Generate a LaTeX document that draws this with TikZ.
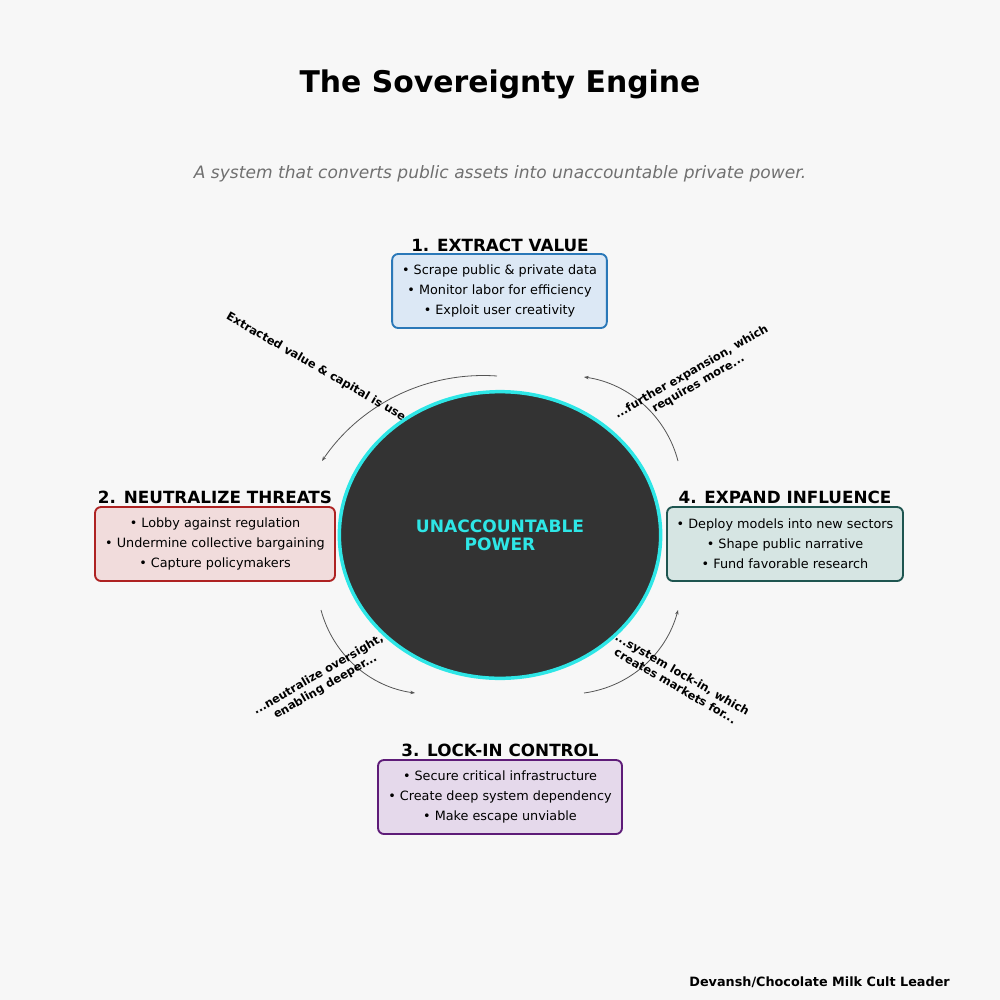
\documentclass[tikz,border=0pt]{standalone}
\usepackage{fontspec}
\setmainfont{DejaVu Sans}
\usetikzlibrary{arrows.meta,shapes.geometric}
\definecolor{bg}{HTML}{F7F7F7}
\definecolor{subgray}{HTML}{707070}
\definecolor{fillA}{HTML}{DCE8F5}\definecolor{drawA}{HTML}{2A78B8}
\definecolor{fillB}{HTML}{F1DCDC}\definecolor{drawB}{HTML}{AE2222}
\definecolor{fillC}{HTML}{E5D9EB}\definecolor{drawC}{HTML}{5E1C78}
\definecolor{fillD}{HTML}{D6E5E3}\definecolor{drawD}{HTML}{1E5550}
\definecolor{corefill}{HTML}{333333}\definecolor{corecyan}{HTML}{2EE6E6}
\definecolor{arcgray}{HTML}{555555}
\begin{document}
\begin{tikzpicture}[x=0.75pt,y=-0.75pt,
  stagebox/.style={rounded corners=4.5pt,line width=1.4pt,align=center,inner sep=0pt,
    minimum height=55.5pt,font=\fontsize{9.6}{15}\selectfont},
  stagetitle/.style={font=\bfseries\fontsize{12.6}{15}\selectfont,inner sep=0pt},
  flowlabel/.style={font=\bfseries\fontsize{8.6}{10.3}\selectfont,align=center,inner sep=0pt},
  flowarc/.style={draw=arcgray,line width=0.6pt,-{Stealth[length=3.5pt,width=2.6pt]}}]
\fill[bg] (0,0) rectangle (1000,1000);
\useasboundingbox (0,0) rectangle (1000,1000);

\node[font=\bfseries\fontsize{22.4}{26}\selectfont] (title) at (500,84) {The Sovereignty Engine};
\node[font=\itshape\fontsize{12.8}{15}\selectfont,text=subgray] (subtitle) at (500,174)
  {A system that converts public assets into unaccountable private power.};

% stage titles and boxes
\node[stagetitle] (t1) at (500,245) {1. EXTRACT VALUE};
\node[stagebox,fill=fillA,draw=drawA,minimum width=161pt] (b1) at (499.5,291)
  {• Scrape public \& private data\\• Monitor labor for efficiency\\• Exploit user creativity};
\node[stagetitle] (t2) at (215,497) {2. NEUTRALIZE THREATS};
\node[stagebox,fill=fillB,draw=drawB,minimum width=180pt] (b2) at (215,544)
  {• Lobby against regulation\\• Undermine collective bargaining\\• Capture policymakers};
\node[stagetitle] (t3) at (500,750) {3. LOCK-IN CONTROL};
\node[stagebox,fill=fillC,draw=drawC,minimum width=183pt] (b3) at (500,797)
  {• Secure critical infrastructure\\• Create deep system dependency\\• Make escape unviable};
\node[stagetitle] (t4) at (785,497) {4. EXPAND INFLUENCE};
\node[stagebox,fill=fillD,draw=drawD,minimum width=177pt] (b4) at (785,544)
  {• Deploy models into new sectors\\• Shape public narrative\\• Fund favorable research};

% arcs
\coordinate (a1s) at (497,376); \coordinate (a1e) at (322,461);
\coordinate (a2s) at (321,610); \coordinate (a2e) at (415,693);
\coordinate (a3s) at (584,693); \coordinate (a3e) at (678,610);
\coordinate (a4s) at (678,461); \coordinate (a4e) at (584,377);
\draw[flowarc] (a1s) .. controls (427.6,371.1) and (361,403.5) .. (a1e);
\draw[flowarc] (a2s) .. controls (332.9,654.3) and (369.5,686.8) .. (a2e);
\draw[flowarc] (a3s) .. controls (629.5,686.8) and (666.1,654.3) .. (a3e);
\draw[flowarc] (a4s) .. controls (666.4,416.6) and (629.4,383.6) .. (a4e);

% labels
\node[flowlabel,anchor=west,rotate=-30] (l1) at (227,316) {Extracted value \& capital is used to...};
\node[flowlabel,rotate=30] (l4) at (695,378) {...further expansion, which\\requires more...};
\node[flowlabel,rotate=30] (l2) at (322,681) {...neutralize oversight,\\enabling deeper...};
\node[flowlabel,rotate=-30] (l3) at (679,680) {...system lock-in, which\\creates markets for...};

% core
\node[ellipse,fill=corefill,draw=corecyan,line width=2.6pt,minimum width=241pt,minimum height=215pt,
  align=center,text=corecyan,font=\bfseries\fontsize{12.8}{13.5}\selectfont] (core) at (500,535)
  {UNACCOUNTABLE\\POWER};

\node[anchor=east,inner sep=0pt,font=\bfseries\fontsize{9.6}{11}\selectfont] (foot) at (950,982)
  {Devansh/Chocolate Milk Cult Leader};
\end{tikzpicture}
\end{document}
